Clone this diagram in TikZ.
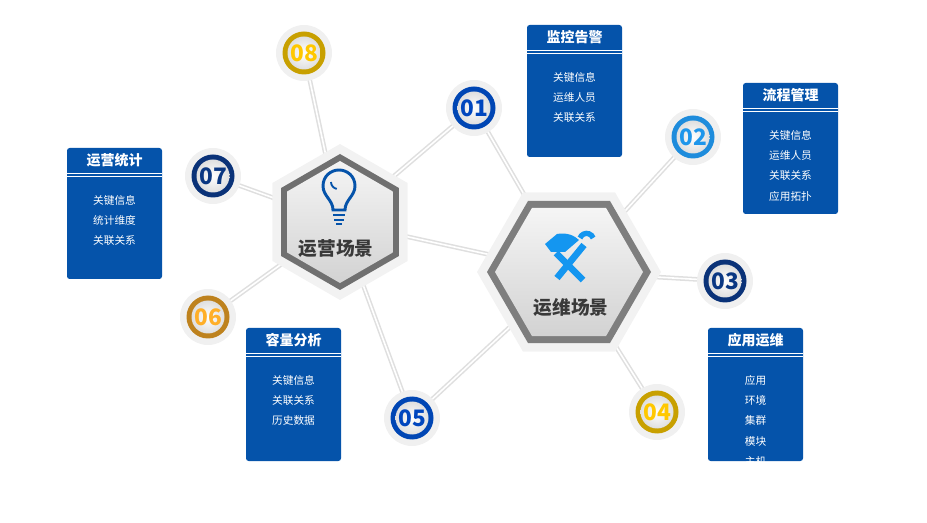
\documentclass[tikz,border=0pt]{standalone}
\usepackage{fontspec}
\setmainfont{Noto Sans CJK SC}
\usetikzlibrary{calc}
\definecolor{boxblue}{HTML}{0553AA}
\tikzset{
  link/.style={draw=gray!25,line width=3.5pt},
  linkin/.style={draw=white,line width=1.2pt},
  infobox/.style={fill=boxblue,rounded corners=2pt},
  num/.style={font=\bfseries\fontsize{17}{17}\selectfont},
}
\newcommand{\numc}[4]{% name, pos, ring color, text color, label
  \node[circle,minimum size=58,fill=gray!12] (#1) at #2 {};
  \fill[#3] #2 circle (21);
  \shade[inner color=white,outer color=gray!25] #2 circle (16);
}
\newcommand{\infob}[5]{% name, x1,y1, x2,y2 ; title in #5 separate
}
\begin{document}
\begin{tikzpicture}[x=0.75pt,y=-0.75pt]
\useasboundingbox (0,0) rectangle (927,523);
% coordinates
\coordinate (L) at (340,222);
\coordinate (R) at (569,272);
\coordinate (c1) at (474,108);
\coordinate (c2) at (693,137);
\coordinate (c3) at (725,281);
\coordinate (c4) at (657,412);
\coordinate (c5) at (412,418);
\coordinate (c6) at (208,317);
\coordinate (c7) at (213,176);
\coordinate (c8) at (304,53);
% links
\foreach \a/\b in {c8/L,c7/L,c6/L,c5/L,c1/L,L/R,c1/R,c2/R,c3/R,c4/R,c5/R}{
  \path[link] (\a) -- (\b); \path[linkin] (\a) -- (\b);}
% hexagons
\fill[gray!10] ($(L)+(90:78)$) \foreach \k in {1,...,5}{ -- ($(L)+(90+60*\k:78)$)} -- cycle;
\fill[gray!40!black!70] ($(L)+(90:68)$) \foreach \k in {1,...,5}{ -- ($(L)+(90+60*\k:68)$)} -- cycle;
\shade[top color=gray!8,bottom color=gray!35] ($(L)+(90:61)$) \foreach \k in {1,...,5}{ -- ($(L)+(90+60*\k:61)$)} -- cycle;
\fill[gray!10] ($(R)+(0:92)$) \foreach \k in {1,...,5}{ -- ($(R)+(60*\k:92)$)} -- cycle;
\fill[gray!45!black!65] ($(R)+(0:82)$) \foreach \k in {1,...,5}{ -- ($(R)+(60*\k:82)$)} -- cycle;
\shade[top color=gray!8,bottom color=gray!35] ($(R)+(0:74)$) \foreach \k in {1,...,5}{ -- ($(R)+(60*\k:74)$)} -- cycle;
% bulb icon
\begin{scope}[shift={(339,196)},line width=2.2pt,draw=boxblue]
  \draw[boxblue] (-6,14) .. controls (-6,4) and (-16,0) .. (-16,-10) .. controls (-16,-20) and (-8,-26) .. (0,-26) .. controls (8,-26) and (16,-20) .. (16,-10) .. controls (16,0) and (6,4) .. (6,14) -- cycle;
  \draw[boxblue,line width=1.4pt] (-8,-14) arc (180:100:7);
  \draw[boxblue,line width=1.8pt] (-6,19) -- (6,19) (-5,24) -- (5,24) (-3,28) -- (3,28);
\end{scope}
\node[text=gray!45!black,font=\bfseries\fontsize{14}{14}\selectfont] (Lt) at (336,249) {运营场景};
% tools icon
\begin{scope}[shift={(571,258)},color={rgb,255:red,20;green,150;blue,240}]
  \draw[line width=5pt,color={rgb,255:red,20;green,150;blue,240}] (-15,-5) -- (12,22);
  \fill[color={rgb,255:red,20;green,150;blue,240}] (-26,-14) -- (-14,-24) .. controls (-4,-26) and (4,-22) .. (8,-18) -- (-6,-6) -- (-20,-6) -- cycle;
  \draw[line width=5pt,color={rgb,255:red,20;green,150;blue,240}] (13,-13) -- (-14,20);
  \draw[line width=4pt,color={rgb,255:red,20;green,150;blue,240}] (9,-20) arc (200:340:7);
\end{scope}
\node[text=gray!45!black,font=\bfseries\fontsize{14}{14}\selectfont] (Rt) at (571,307) {运维场景};
% number circles
\foreach \n/\ring/\txt/\lab in {c1/{0,70,180}/{0,70,190}/01, c2/{30,140,220}/{30,150,235}/02, c3/{10,50,120}/{10,55,130}/03, c4/{200,160,0}/{255,200,0}/04, c5/{0,70,180}/{0,70,190}/05, c6/{190,130,30}/{255,175,40}/06, c7/{10,50,120}/{10,55,130}/07, c8/{200,160,0}/{255,200,0}/08}{
  \fill[gray!12] (\n) circle (28);
  \definecolor{rc}{RGB}{\ring}\definecolor{tc}{RGB}{\txt}
  \fill[rc] (\n) circle (21.5);
  \shade[inner color=white,outer color=gray!25] (\n) circle (16.5);
  \node[num,text=tc] (t\n) at (\n) {\lab};
}
% info boxes
\foreach \nm/\x/\y/\h/\title/\items in {
  b1/527/25/132/监控告警/{关键信息,运维人员,关联关系},
  b2/743/83/131/流程管理/{关键信息,运维人员,关联关系,应用拓扑},
  b3/67/148/131/运营统计/{关键信息,统计维度,关联关系},
  b4/246/328/133/容量分析/{关键信息,关联关系,历史数据},
  b5/708/328/133/应用运维/{应用,环境,集群,模块,主机}}{
  \fill[infobox] (\x,\y) rectangle ++(95,\h);
  \node[text=white,font=\bfseries\fontsize{10.5}{10.5}\selectfont] (\nm) at (\x+47.5,\y+12) {\title};
  \draw[white,line width=0.6pt] (\x,\y+25) -- ++(95,0) (\x,\y+28.5) -- ++(95,0);
  \foreach \it [count=\i] in \items {
    \node[text=white,font=\fontsize{8}{8}\selectfont] at (\x+47.5,\y+32+20.3*\i) {\it};
  }
}
\end{tikzpicture}
\end{document}
